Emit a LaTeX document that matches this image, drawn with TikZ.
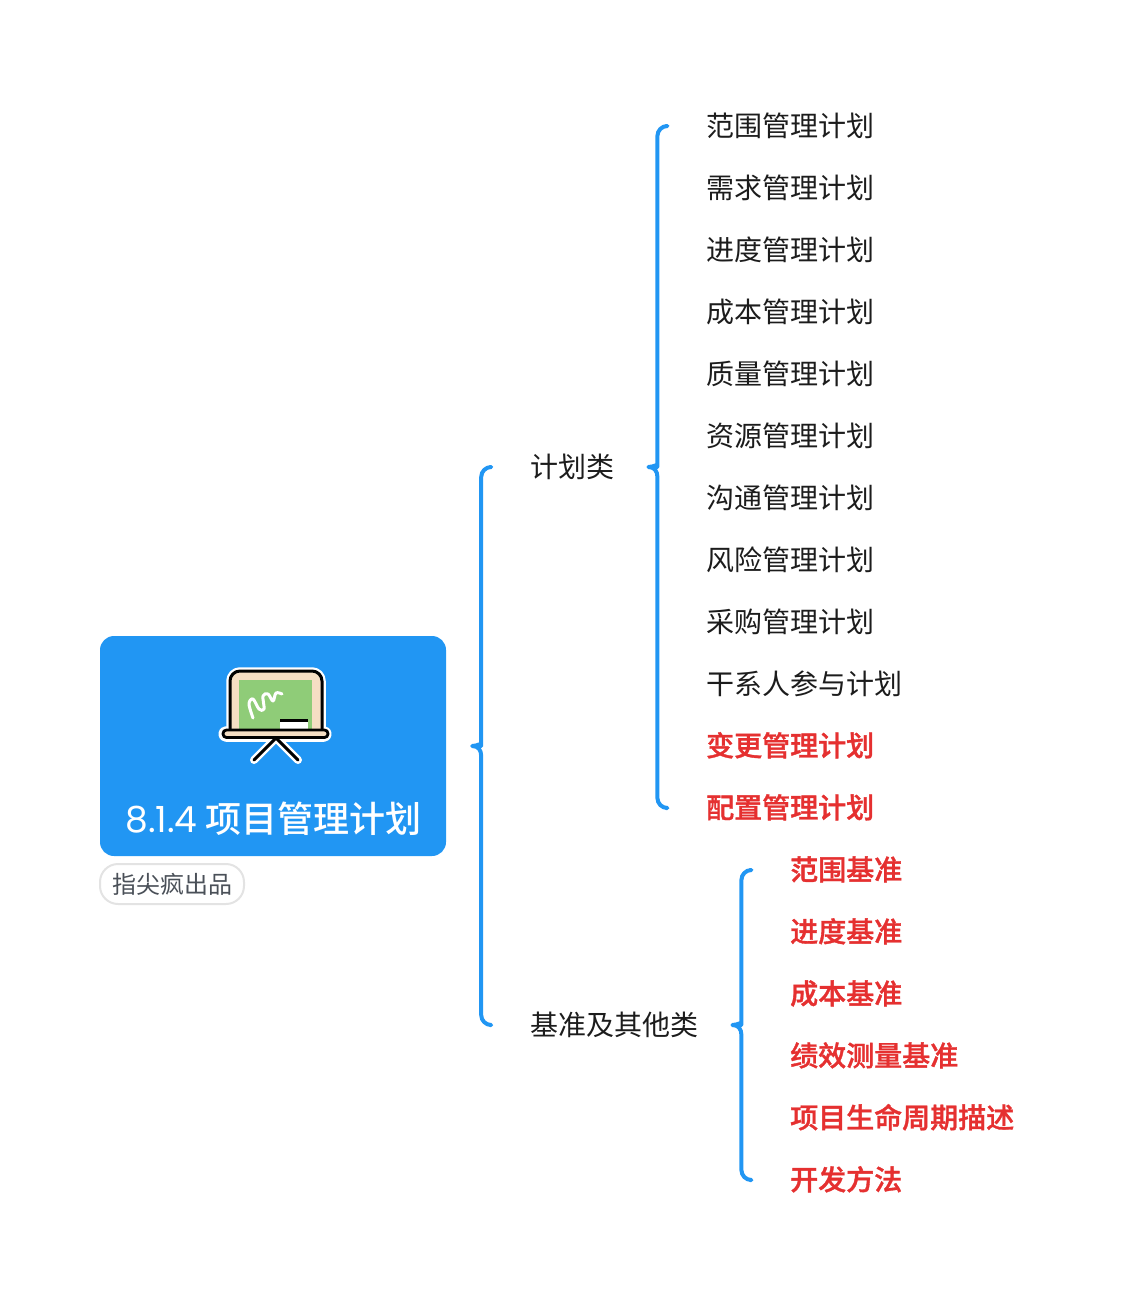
\documentclass[tikz,border=0pt]{standalone}
\usepackage{fontspec}
\setmainfont{Noto Sans CJK SC}
\newfontfamily\titlelatin{Poppins}
\newfontfamily\titleface{Noto Sans CJK SC Medium}
\newfontfamily\hotface[FakeBold=1.2]{Noto Sans CJK SC Medium}
\definecolor{mapblue}{HTML}{2196F3}
\definecolor{mapred}{HTML}{E53030}
\definecolor{mapink}{HTML}{1C1C1C}
\definecolor{taggrey}{HTML}{E3E3E3}
\definecolor{tagink}{HTML}{4A5058}
\definecolor{boardgreen}{HTML}{8FCC78}
\definecolor{boardwood}{HTML}{F5DEC3}
\tikzset{
  rootbox/.style={draw=none,fill=mapblue,rounded corners=14pt,minimum width=346pt,minimum height=220pt,inner sep=0pt},
  roottitle/.style={text=white,font=\fontsize{36}{36}\selectfont\titleface,inner sep=0pt},
  tagbox/.style={draw=taggrey,line width=2pt,fill=white,rounded corners=18pt,minimum width=144pt,minimum height=40pt,inner sep=0pt,text=tagink,font=\fontsize{24}{24}\selectfont},
  topic/.style={anchor=west,inner sep=0pt,text=mapink,text height=24pt,text depth=4pt,font=\fontsize{28}{28}\selectfont},
  hot/.style={topic,text=mapred,font=\fontsize{28}{28}\selectfont\hotface},
  bracketline/.style={draw=mapblue,line width=4pt,rounded corners=10pt,line cap=round,line join=round},
  halo/.style={draw=white,line width=7.5pt,line cap=round,line join=round},
  ink/.style={draw=black,line width=3pt,line cap=round,line join=round}
}
\newcommand{\bracketpath}[3]{%
  \coordinate (tip) at #1;
  \draw[bracketline] ([xshift=-40pt]#2.west) -| ([xshift=9pt,yshift=10pt]tip)
    [sharp corners] .. controls ([xshift=9pt,yshift=4pt]tip) and ([xshift=6pt]tip) .. (tip)
    .. controls ([xshift=6pt]tip) and ([xshift=9pt,yshift=-4pt]tip) .. ([xshift=9pt,yshift=-10pt]tip)
    [rounded corners=10pt] |- ([xshift=-40pt]#3.west);
}
\begin{document}
\begin{tikzpicture}[x=1pt,y=-1pt]
\useasboundingbox (0,0) rectangle (1122,1306);
\node[rootbox] (root) at (273,746) {};
\node[roottitle] (title) at (273.5,819) {{\titlelatin 8.1.4} 项目管理计划};
\node[tagbox] (tag) at (172,884) {指尖疯出品};
% icon
\begin{scope}
  \path[halo,fill=white] (230,729) -- (230,681) arc[start angle=180,end angle=270,radius=10] -- (312,671) arc[start angle=270,end angle=360,radius=10] -- (322,729) -- cycle;
  \draw[halo,line width=8pt] (276,738) -- (254,760);
  \draw[halo,line width=8pt] (276,738) -- (298,760);
  \draw[halo,fill=white,rounded corners=4pt] (222,730) rectangle (328,738);
  \fill[boardwood] (230,729) -- (230,681) arc[start angle=180,end angle=270,radius=10] -- (312,671) arc[start angle=270,end angle=360,radius=10] -- (322,729) -- cycle;
  \fill[boardgreen] (239,680) rectangle (312,729);
  \fill[white] (280,720) rectangle (308,729);
  \draw[black,line width=3.2pt] (280,720.5) -- (308,720.5);
  \draw[ink] (230,729) -- (230,681) arc[start angle=180,end angle=270,radius=10] -- (312,671) arc[start angle=270,end angle=360,radius=10] -- (322,729);
  \draw[ink] (276,738) -- (254,760);
  \draw[ink] (276,738) -- (298,760);
  \draw[ink,fill=boardwood,line width=2.8pt,rounded corners=3.5pt] (223,730) rectangle (328,737.5);
  \draw[white,line width=3pt,line cap=round,line join=round] plot[smooth,tension=0.6] coordinates {(253,718) (249,704) (253,699) (259,709) (264,709) (263,696) (268,694) (273,701) (276,693) (282,694)};
\end{scope}
% branches
\node[topic] (plan) at (530,467) {计划类};
\node[topic] (base) at (530,1025) {基准及其他类};
\node[topic] (p1) at (706,126) {范围管理计划};
\node[topic] (p2) at (706,188) {需求管理计划};
\node[topic] (p3) at (706,250) {进度管理计划};
\node[topic] (p4) at (706,312) {成本管理计划};
\node[topic] (p5) at (706,374) {质量管理计划};
\node[topic] (p6) at (706,436) {资源管理计划};
\node[topic] (p7) at (706,498) {沟通管理计划};
\node[topic] (p8) at (706,560) {风险管理计划};
\node[topic] (p9) at (706,622) {采购管理计划};
\node[topic] (p10) at (706,684) {干系人参与计划};
\node[hot] (p11) at (706,746) {变更管理计划};
\node[hot] (p12) at (706,808) {配置管理计划};
\node[hot] (b1) at (790,870) {范围基准};
\node[hot] (b2) at (790,932) {进度基准};
\node[hot] (b3) at (790,994) {成本基准};
\node[hot] (b4) at (790,1056) {绩效测量基准};
\node[hot] (b5) at (790,1118) {项目生命周期描述};
\node[hot] (b6) at (790,1180) {开发方法};
\bracketpath{([xshift=26pt]root.east)}{plan}{base}
\bracketpath{([xshift=34pt]plan.east)}{p1}{p12}
\bracketpath{([xshift=34pt]base.east)}{b1}{b6}
\end{tikzpicture}
\end{document}
